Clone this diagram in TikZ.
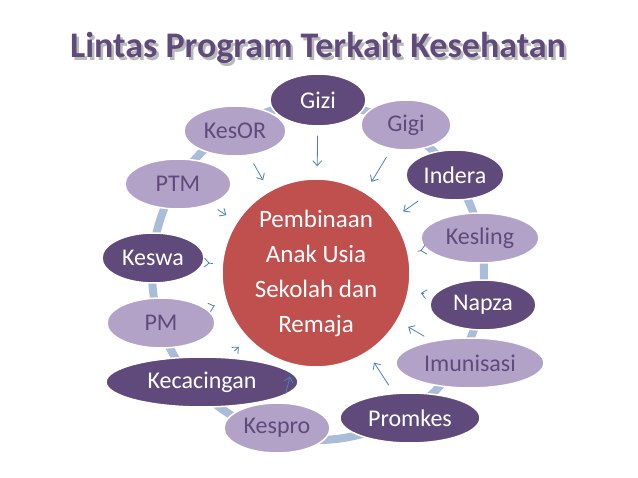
\documentclass[tikz,border=0pt]{standalone}
\usepackage{fontspec}
\setmainfont{Carlito}
\usetikzlibrary{shapes.geometric,arrows.meta}
\definecolor{dk}{HTML}{604A7B}
\definecolor{lt}{HTML}{B3A2C7}
\definecolor{rd}{HTML}{C0504D}
\definecolor{ring}{HTML}{A9BDDA}
\definecolor{arr}{HTML}{4F7FBA}
\begin{document}
\begin{tikzpicture}[x=1pt,y=-1pt,
  base/.style={ellipse,draw=white,line width=1.5pt,inner sep=0pt,font=\fontsize{24}{26}\selectfont},
  dark/.style={base,fill=dk,text=white},
  light/.style={base,fill=lt,text=dk},
  arrw/.style={draw=arr,line width=0.8pt,-{Straight Barb[length=5pt,width=9pt]},shorten <=9pt,shorten >=12pt}]
\useasboundingbox (0,0) rectangle (638,478);
\fill[white] (0,0) rectangle (638,478);
\node[font=\fontsize{36}{40}\selectfont\bfseries,text=gray!55] (tsh) at (320.5,50.5) {Lintas Program Terkait Kesehatan};
\node[font=\fontsize{36}{40}\selectfont\bfseries,text=dk] (title) at (318,48) {Lintas Program Terkait Kesehatan};
\draw[ring,line width=8pt] (318,272) ellipse (166 and 168);
\node[circle,draw=white,line width=1.5pt,fill=rd,text=white,minimum size=188pt,align=center,font=\fontsize{25}{35}\selectfont] (c) at (316,273) {Pembinaan\\Anak Usia\\Sekolah dan\\Remaja};
\node[dark,minimum width=96pt,minimum height=52pt] (gizi) at (318,100) {Gizi};
\node[light,minimum width=90pt,minimum height=50pt] (gigi) at (406,125) {Gigi};
\node[dark,minimum width=98pt,minimum height=50pt] (indera) at (455,175) {Indera};
\node[light,minimum width=118pt,minimum height=50pt] (kesling) at (480,238) {Kesling};
\node[dark,minimum width=106pt,minimum height=50pt] (napza) at (483,305) {Napza};
\node[light,minimum width=148pt,minimum height=50pt] (imun) at (470,363) {Imunisasi};
\node[dark,minimum width=140pt,minimum height=50pt] (promkes) at (410,418) {Promkes};
\node[light,minimum width=106pt,minimum height=50pt] (kespro) at (277,428) {Kespro};
\node[dark,minimum width=192pt,minimum height=50pt] (kecac) at (202,382) {Kecacingan};
\node[light,minimum width=108pt,minimum height=50pt] (pm) at (161,323) {PM};
\node[dark,minimum width=102pt,minimum height=50pt] (keswa) at (153,258) {Keswa};
\node[light,minimum width=106pt,minimum height=50pt] (ptm) at (178,184) {PTM};
\node[light,minimum width=102pt,minimum height=50pt] (kesor) at (235,131) {KesOR};
\foreach \n in {gizi,gigi,indera,kesling,napza,imun,promkes,kespro,kecac,pm,keswa,ptm,kesor}
  \draw[arrw] (\n) -- (c);
\end{tikzpicture}
\end{document}
